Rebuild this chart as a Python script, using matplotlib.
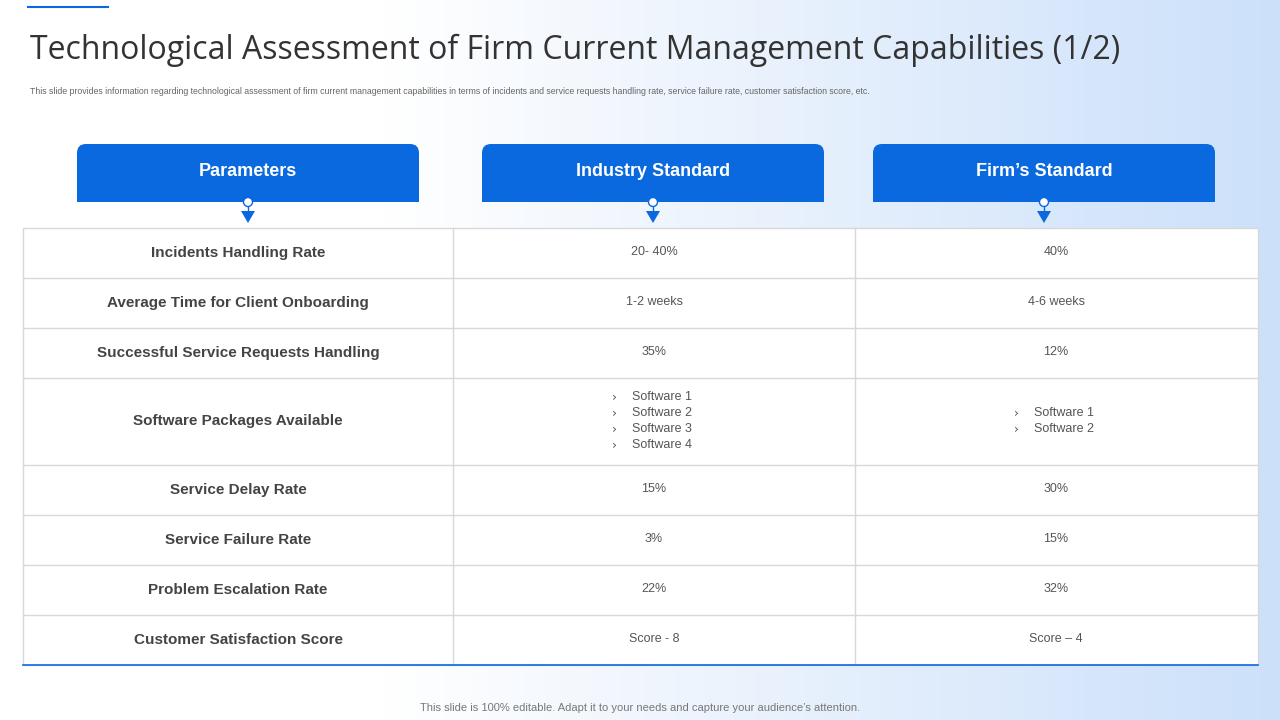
import matplotlib
matplotlib.use("Agg")
import matplotlib.pyplot as plt
import numpy as np
from matplotlib.patches import FancyBboxPatch, Rectangle, Polygon, Circle

title = "Technological Assessment of Firm Current Management Capabilities (1/2)"
subtitle = ("This slide provides information regarding technological assessment of firm current management capabilities in terms of incidents "
            "and service requests handling rate, service failure rate, customer satisfaction score, etc.")
footer = "This slide is 100% editable. Adapt it to your needs and capture your audience\u2019s attention."
headers = ["Parameters", "Industry Standard", "Firm\u2019s Standard"]
parameters = ["Incidents Handling Rate", "Average Time for Client Onboarding",
              "Successful Service Requests Handling", "Software Packages Available",
              "Service Delay Rate", "Service Failure Rate", "Problem Escalation Rate",
              "Customer Satisfaction Score"]
industry = ["20- 40%", "1-2 weeks", "35%",
            ["Software 1", "Software 2", "Software 3", "Software 4"],
            "15%", "3%", "22%", "Score - 8"]
firm = ["40%", "4-6 weeks", "12%", ["Software 1", "Software 2"],
        "30%", "15%", "32%", "Score \u2013 4"]

BLUE = "#0b69df"
fig = plt.figure(figsize=(12.8, 7.2), dpi=100)
ax = fig.add_axes([0, 0, 1, 1])
ax.set_xlim(0, 1280); ax.set_ylim(720, 0); ax.axis("off")

# gradient background
g = np.linspace(0, 1, 256)
c0 = np.array([1, 1, 1]); c1 = np.array([0.80, 0.88, 0.98])
t = np.clip((g - 0.3) / 0.7, 0, 1)[:, None]
img = (c0 * (1 - t) + c1 * t)[None, :, :]
ax.imshow(img, extent=[0, 1280, 720, 0], aspect="auto", zorder=0)
ax.plot([28, 108], [7, 7], color=BLUE, lw=1.5)

ax.text(30, 50, title, fontsize=23, color="#333333", va="center", ha="left", family="Open Sans")
ax.text(30, 92, subtitle, fontsize=6.3, color="#666666", va="center", ha="left", family="Liberation Sans")
ax.text(640, 708, footer, fontsize=8, color="#777777", va="center", ha="center", family="Liberation Sans")

cols = [23, 453, 855, 1258]
heights = [50, 50, 50, 87, 50, 50, 50, 50]
top = 228
ax.add_patch(Rectangle((cols[0], top), cols[-1] - cols[0], sum(heights), facecolor="white",
                       edgecolor="#d8d8d8", lw=1, zorder=1))
for x in cols[1:-1]:
    ax.plot([x, x], [top, top + sum(heights)], color="#d8d8d8", lw=1, zorder=2)

y = top
for i, h in enumerate(heights):
    cy = y + h / 2
    ax.text(238, cy, parameters[i], fontsize=11, fontweight="bold", color="#444444",
            ha="center", va="center", family="Liberation Sans", zorder=3)
    for val, cx in ((industry[i], 654), (firm[i], 1056)):
        if isinstance(val, list):
            n = len(val)
            for k, s in enumerate(val):
                yy = cy + (k - (n - 1) / 2) * 16
                ax.text(cx - 40, yy, "\u203a", fontsize=9, color="#555555", ha="center", va="center", zorder=3)
                ax.text(cx - 22, yy, s, fontsize=9, color="#555555", ha="left", va="center",
                        family="Liberation Sans", zorder=3)
        else:
            ax.text(cx, cy - 1, val, fontsize=9, color="#555555", ha="center", va="center",
                    family="Liberation Sans", zorder=3)
    y += h
    if i < len(heights) - 1:
        ax.plot([cols[0], cols[-1]], [y, y], color="#d8d8d8", lw=1, zorder=2)
ax.plot([cols[0], cols[-1]], [y, y], color=BLUE, lw=1.2, zorder=3)

boxes = [(77, 419), (482, 824), (873, 1215)]
for (x0, x1), htxt in zip(boxes, headers):
    ax.add_patch(FancyBboxPatch((x0, 144), x1 - x0, 58, boxstyle="round,pad=0,rounding_size=9",
                                facecolor=BLUE, edgecolor="none", zorder=4))
    ax.add_patch(Rectangle((x0, 185), x1 - x0, 17, facecolor=BLUE, edgecolor="none", zorder=4))
    ax.text((x0 + x1) / 2, 172, htxt, fontsize=13, fontweight="bold", color="white",
            ha="center", va="center", family="Liberation Sans", zorder=5)
    mx = (x0 + x1) / 2 + 0
    ax.plot([mx, mx], [202, 210], color=BLUE, lw=1, zorder=4)
    ax.add_patch(Circle((mx, 202), 4.5, facecolor="white", edgecolor=BLUE, lw=1, zorder=5))
    ax.add_patch(Polygon([[mx - 7, 211], [mx + 7, 211], [mx, 223]], facecolor=BLUE, zorder=5))

fig.savefig("out.png", dpi=100)
